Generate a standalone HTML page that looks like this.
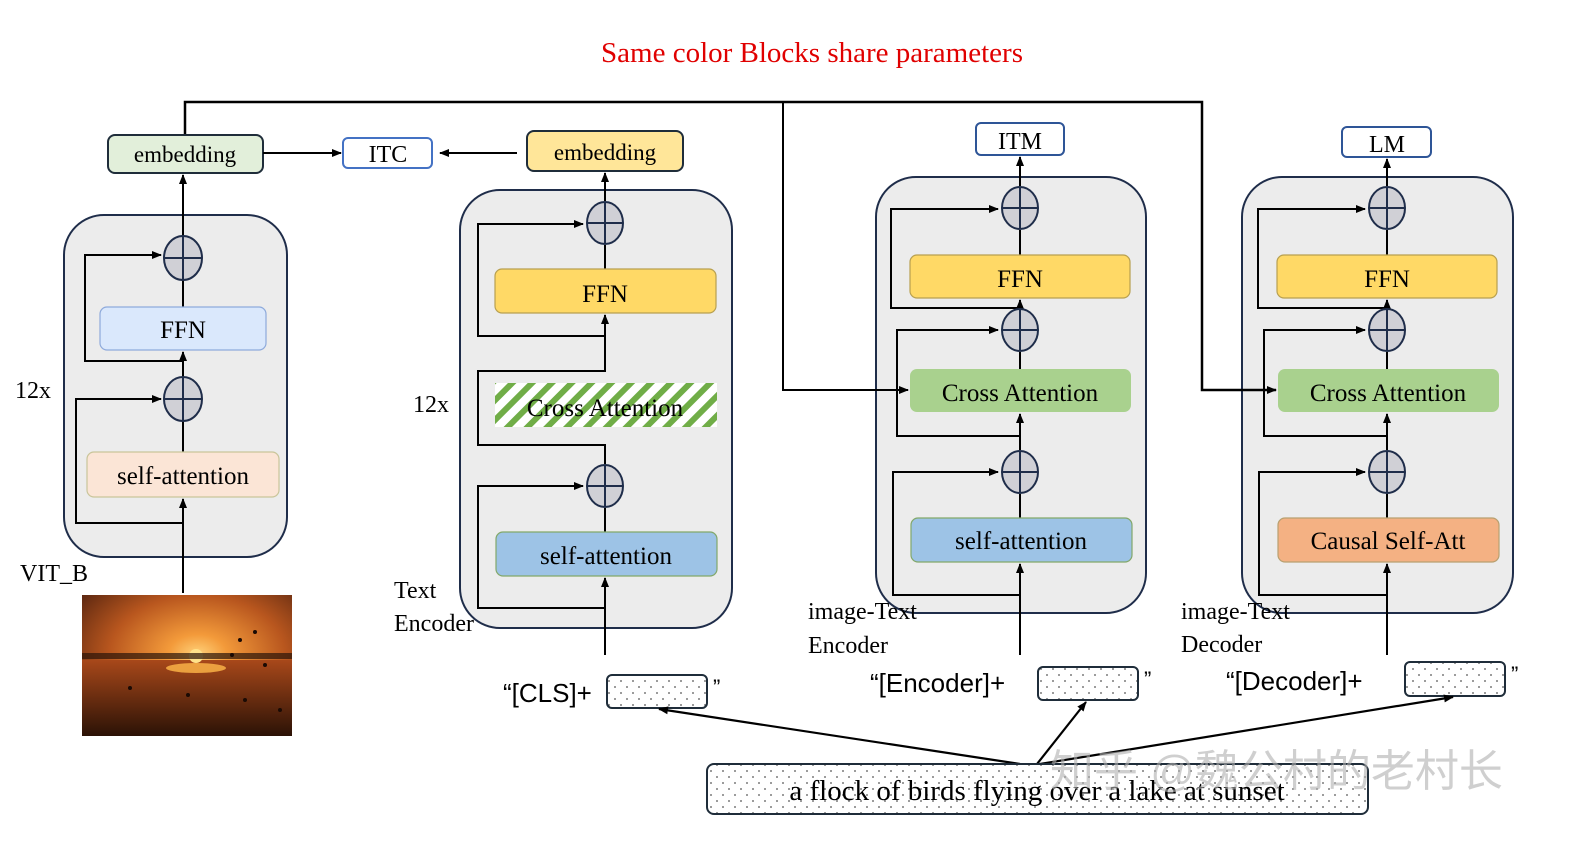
<!DOCTYPE html>
<html><head><meta charset="utf-8"><style>
html,body{margin:0;padding:0;background:#fff;}
svg{display:block;}
.s{font-family:"Liberation Serif",serif;}
.a{font-family:"Liberation Sans",sans-serif;}
</style></head><body>
<svg width="1586" height="844" viewBox="0 0 1586 844" xmlns="http://www.w3.org/2000/svg">
<defs>
<marker id="ar" markerWidth="10" markerHeight="10" refX="9" refY="5" orient="auto" markerUnits="userSpaceOnUse">
<path d="M0,1 L10,5 L0,9 z" fill="#000"/></marker>
<pattern id="dots" width="12" height="12" patternUnits="userSpaceOnUse">
<rect width="12" height="12" fill="#fff"/><circle cx="3" cy="3" r="0.9" fill="#555"/><circle cx="9" cy="9" r="0.9" fill="#555"/></pattern>
<pattern id="hatch" width="14" height="14" patternUnits="userSpaceOnUse" patternTransform="rotate(45)">
<rect width="14" height="14" fill="#fff"/><rect width="6" height="14" fill="#70ad47"/></pattern>
<radialGradient id="sun" cx="0.55" cy="0.42" r="0.7">
<stop offset="0" stop-color="#ffd27a"/><stop offset="0.2" stop-color="#f39a3a"/><stop offset="0.6" stop-color="#b8561e"/><stop offset="1" stop-color="#5a2610"/></radialGradient>
<linearGradient id="lake" x1="0" y1="0" x2="0" y2="1"><stop offset="0" stop-color="#a8481a"/><stop offset="1" stop-color="#2b1206"/></linearGradient>
</defs>

<text x="812" y="62" text-anchor="middle" class="s" font-size="29" fill="#e00000">Same color Blocks share parameters</text>

<!-- panels -->
<g fill="#ececec" stroke="#1f2d4a" stroke-width="2">
<rect x="64" y="215" width="223" height="342" rx="40"/>
<rect x="460" y="190" width="272" height="438" rx="40"/>
<rect x="876" y="177" width="270" height="436" rx="40"/>
<rect x="1242" y="177" width="271" height="436" rx="40"/>
</g>

<!-- top connector -->
<path d="M185,135 V102 H1202 V390 H1276" fill="none" stroke="#000" stroke-width="2.5" marker-end="url(#ar)"/>
<path d="M783,102 V390 H908" fill="none" stroke="#000" stroke-width="2" marker-end="url(#ar)"/>

<!-- top boxes -->
<rect x="108" y="135" width="155" height="38" rx="7" fill="#e2efda" stroke="#1f2d3a" stroke-width="2"/>
<text x="185" y="162" text-anchor="middle" class="s" font-size="23">embedding</text>
<rect x="343" y="138" width="89" height="30" rx="5" fill="#fff" stroke="#4472c4" stroke-width="2"/>
<text x="388" y="162" text-anchor="middle" class="s" font-size="24">ITC</text>
<rect x="527" y="131" width="156" height="40" rx="7" fill="#ffe699" stroke="#1f2d3a" stroke-width="2"/>
<text x="605" y="160" text-anchor="middle" class="s" font-size="23">embedding</text>
<line x1="263" y1="153" x2="341" y2="153" stroke="#000" stroke-width="2" marker-end="url(#ar)"/>
<line x1="517" y1="153" x2="440" y2="153" stroke="#000" stroke-width="2" marker-end="url(#ar)"/>
<rect x="976" y="123" width="88" height="32" rx="5" fill="#fff" stroke="#2e5597" stroke-width="2"/>
<text x="1020" y="149" text-anchor="middle" class="s" font-size="24">ITM</text>
<rect x="1342" y="127" width="89" height="30" rx="5" fill="#fff" stroke="#2e5597" stroke-width="2"/>
<text x="1387" y="152" text-anchor="middle" class="s" font-size="24">LM</text>

<g stroke="#000" stroke-width="2" fill="none">
<line x1="183" y1="593" x2="183" y2="499" marker-end="url(#ar)"/>
<line x1="183" y1="452" x2="183" y2="421"/>
<line x1="183" y1="377" x2="183" y2="352" marker-end="url(#ar)"/>
<line x1="183" y1="307" x2="183" y2="280"/>
<line x1="183" y1="236" x2="183" y2="175" marker-end="url(#ar)"/>
<path d="M183,523 H76 V399 H161" marker-end="url(#ar)"/>
<path d="M183,361 H85 V255 H161" marker-end="url(#ar)"/>
<line x1="605" y1="655" x2="605" y2="578" marker-end="url(#ar)"/>
<line x1="605" y1="532" x2="605" y2="508"/>
<path d="M605,464 V445 H478 V371 H605 V315" marker-end="url(#ar)"/>
<line x1="605" y1="269" x2="605" y2="245"/>
<line x1="605" y1="201" x2="605" y2="173" marker-end="url(#ar)"/>
<path d="M605,608 H478 V486 H583" marker-end="url(#ar)"/>
<path d="M605,336 H478 V224 H583" marker-end="url(#ar)"/>
</g>

<g stroke="#000" stroke-width="2" fill="none">
<line x1="1020" y1="655" x2="1020" y2="564" marker-end="url(#ar)"/>
<line x1="1020" y1="518" x2="1020" y2="494"/>
<line x1="1020" y1="450" x2="1020" y2="414" marker-end="url(#ar)"/>
<line x1="1020" y1="369" x2="1020" y2="352"/>
<line x1="1020" y1="308" x2="1020" y2="300" marker-end="url(#ar)"/>
<line x1="1020" y1="255" x2="1020" y2="230"/>
<line x1="1020" y1="186" x2="1020" y2="157" marker-end="url(#ar)"/>
<path d="M1020,595 H893 V472 H998" marker-end="url(#ar)"/>
<path d="M1020,436 H897 V330 H998" marker-end="url(#ar)"/>
<path d="M1020,308 H891 V209 H998" marker-end="url(#ar)"/>
<line x1="1387" y1="655" x2="1387" y2="564" marker-end="url(#ar)"/>
<line x1="1387" y1="518" x2="1387" y2="494"/>
<line x1="1387" y1="450" x2="1387" y2="414" marker-end="url(#ar)"/>
<line x1="1387" y1="369" x2="1387" y2="352"/>
<line x1="1387" y1="308" x2="1387" y2="300" marker-end="url(#ar)"/>
<line x1="1387" y1="255" x2="1387" y2="230"/>
<line x1="1387" y1="186" x2="1387" y2="159" marker-end="url(#ar)"/>
<path d="M1387,595 H1259 V472 H1365" marker-end="url(#ar)"/>
<path d="M1387,436 H1264 V330 H1365" marker-end="url(#ar)"/>
<path d="M1387,308 H1258 V209 H1365" marker-end="url(#ar)"/>
</g>

<!-- blocks -->
<rect x="100" y="307" width="166" height="43" rx="7" fill="#dae8fc" stroke="#8eaadb" stroke-width="1.2"/>
<text x="183" y="338" text-anchor="middle" class="s" font-size="25">FFN</text>
<rect x="87" y="452" width="192" height="45" rx="7" fill="#fbe5d6" stroke="#c9c59a" stroke-width="1.2"/>
<text x="183" y="484" text-anchor="middle" class="s" font-size="25">self-attention</text>

<rect x="495" y="269" width="221" height="44" rx="7" fill="#ffd966" stroke="#b8a050" stroke-width="1.2"/>
<text x="605" y="302" text-anchor="middle" class="s" font-size="25">FFN</text>
<rect x="495" y="383" width="222" height="44" fill="url(#hatch)"/>
<text x="605" y="416" text-anchor="middle" class="s" font-size="25">Cross Attention</text>
<rect x="496" y="532" width="221" height="44" rx="7" fill="#9dc3e6" stroke="#82a86a" stroke-width="1.2"/>
<text x="606" y="564" text-anchor="middle" class="s" font-size="25">self-attention</text>

<rect x="910" y="255" width="220" height="43" rx="7" fill="#ffd966" stroke="#b8a050" stroke-width="1.2"/>
<text x="1020" y="287" text-anchor="middle" class="s" font-size="25">FFN</text>
<rect x="910" y="369" width="221" height="43" rx="7" fill="#a9d18e"/>
<text x="1020" y="401" text-anchor="middle" class="s" font-size="25">Cross Attention</text>
<rect x="911" y="518" width="221" height="44" rx="7" fill="#9dc3e6" stroke="#82a86a" stroke-width="1.2"/>
<text x="1021" y="549" text-anchor="middle" class="s" font-size="25">self-attention</text>

<rect x="1277" y="255" width="220" height="43" rx="7" fill="#ffd966" stroke="#b8a050" stroke-width="1.2"/>
<text x="1387" y="287" text-anchor="middle" class="s" font-size="25">FFN</text>
<rect x="1278" y="369" width="221" height="43" rx="7" fill="#a9d18e"/>
<text x="1388" y="401" text-anchor="middle" class="s" font-size="25">Cross Attention</text>
<rect x="1278" y="518" width="221" height="44" rx="7" fill="#f4b183" stroke="#b8a070" stroke-width="1.2"/>
<text x="1388" y="549" text-anchor="middle" class="s" font-size="25">Causal Self-Att</text>

<g fill="#d0d0d6" stroke="#1f2d4a" stroke-width="2">
<ellipse cx="183" cy="258" rx="19" ry="22"/><ellipse cx="183" cy="399" rx="19" ry="22"/>
<ellipse cx="605" cy="223" rx="18" ry="21"/><ellipse cx="605" cy="486" rx="18" ry="21"/>
<ellipse cx="1020" cy="208" rx="18" ry="21"/><ellipse cx="1020" cy="330" rx="18" ry="21"/><ellipse cx="1020" cy="472" rx="18" ry="21"/>
<ellipse cx="1387" cy="208" rx="18" ry="21"/><ellipse cx="1387" cy="330" rx="18" ry="21"/><ellipse cx="1387" cy="472" rx="18" ry="21"/>
</g>
<g stroke="#1f2d4a" stroke-width="2">
<path d="M164,258 H202 M183,236 V280 M164,399 H202 M183,377 V421"/>
<path d="M587,223 H623 M605,202 V244 M587,486 H623 M605,465 V507"/>
<path d="M1002,208 H1038 M1020,187 V229 M1002,330 H1038 M1020,309 V351 M1002,472 H1038 M1020,451 V493"/>
<path d="M1369,208 H1405 M1387,187 V229 M1369,330 H1405 M1387,309 V351 M1369,472 H1405 M1387,451 V493"/>
</g>

<text x="15" y="398" class="s" font-size="24">12x</text>
<text x="20" y="581" class="s" font-size="24">VIT_B</text>
<text x="413" y="412" class="s" font-size="24">12x</text>
<text x="394" y="598" class="s" font-size="24">Text</text>
<text x="394" y="631" class="s" font-size="24">Encoder</text>
<text x="808" y="619" class="s" font-size="24">image-Text</text>
<text x="808" y="653" class="s" font-size="24">Encoder</text>
<text x="1181" y="619" class="s" font-size="24">image-Text</text>
<text x="1181" y="652" class="s" font-size="24">Decoder</text>

<rect x="82" y="595" width="210" height="141" fill="url(#sun)"/>
<rect x="82" y="660" width="210" height="76" fill="url(#lake)"/>
<ellipse cx="196" cy="668" rx="30" ry="5" fill="#ffb84a" opacity="0.8"/>
<circle cx="196" cy="656" r="7" fill="#ffe28a"/>
<rect x="82" y="653" width="210" height="6" fill="#2a1408" opacity="0.7"/>
<g fill="#1a0a04"><circle cx="240" cy="640" r="2"/><circle cx="255" cy="632" r="2"/><circle cx="232" cy="655" r="2"/><circle cx="265" cy="665" r="2"/><circle cx="188" cy="695" r="2"/><circle cx="245" cy="700" r="2"/><circle cx="130" cy="688" r="2"/><circle cx="280" cy="710" r="2"/></g>

<text x="503" y="702" class="a" font-size="26">“[CLS]+</text>
<rect x="607" y="675" width="100" height="33" rx="5" fill="url(#dots)" stroke="#1f2d3a" stroke-width="2"/>
<text x="713" y="695" class="a" font-size="22">”</text>
<text x="870" y="692" class="a" font-size="26">“[Encoder]+</text>
<rect x="1038" y="667" width="100" height="33" rx="5" fill="url(#dots)" stroke="#1f2d3a" stroke-width="2"/>
<text x="1144" y="687" class="a" font-size="22">”</text>
<text x="1226" y="690" class="a" font-size="26">“[Decoder]+</text>
<rect x="1405" y="662" width="100" height="34" rx="5" fill="url(#dots)" stroke="#1f2d3a" stroke-width="2"/>
<text x="1511" y="682" class="a" font-size="22">”</text>

<g stroke="#000" stroke-width="2.2" fill="none">
<line x1="1020" y1="764" x2="659" y2="709" marker-end="url(#ar)"/>
<line x1="1037" y1="764" x2="1086" y2="702" marker-end="url(#ar)"/>
<line x1="1040" y1="764" x2="1453" y2="697" marker-end="url(#ar)"/>
</g>
<rect x="707" y="764" width="661" height="50" rx="7" fill="url(#dots)" stroke="#1f2d3a" stroke-width="2"/>
<text x="1037" y="800" text-anchor="middle" class="s" font-size="29">a flock of birds flying over a lake at sunset</text>

<text x="1050" y="786" font-size="44" fill="#b0b0b0" opacity="0.6" style="font-family:'Liberation Sans','Noto Sans CJK SC',sans-serif">知乎 @魏公村的老村长</text>
</svg>
</body></html>
